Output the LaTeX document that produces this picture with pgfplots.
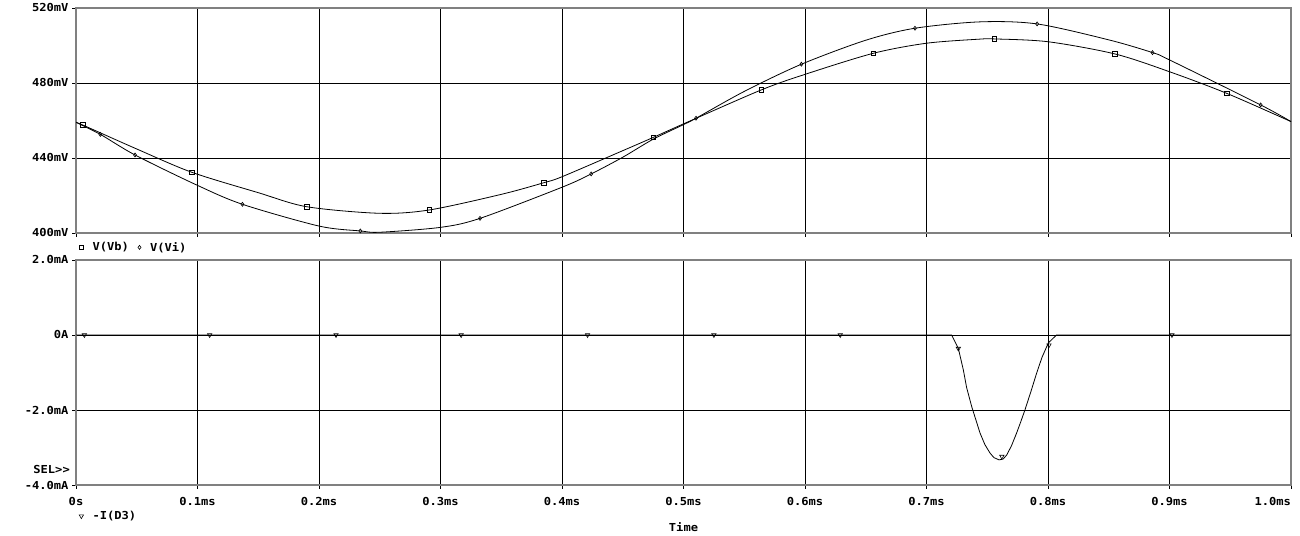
\documentclass[border=0pt]{standalone}
\usepackage{fontspec}
\setmainfont{DejaVu Sans Mono}[FakeStretch=1.1]
\usepackage{pgfplots}
\pgfplotsset{compat=1.18}
\pgfplotsset{
  psp/.style={
    scale only axis, width=1215bp, height=225bp,
    xmin=0, xmax=1,
    xtick={0,0.1,0.2,0.3,0.4,0.5,0.6,0.7,0.8,0.9,1.0},
    axis line style={gray, line width=1.5bp},
    grid=major, grid style={black, line width=0.8bp},
    tick style={black, line width=0.8bp},
    tick align=outside, major tick length=4bp,
    xtick pos=bottom, ytick pos=left,
    clip mode=individual,
    font=\bfseries\fontsize{11bp}{13bp}\selectfont,
    yticklabel style={xshift=0bp},
    legend cell align=left,
    legend style={draw=none, fill=none, inner sep=0pt, legend columns=-1,
      /tikz/every odd column/.append style={column sep=7bp},
      /tikz/every even column/.append style={column sep=7bp},
      font=\bfseries\fontsize{11bp}{13bp}\selectfont},
    legend image code/.code={\draw[mark repeat=2,mark phase=2,#1] plot coordinates {(0bp,0bp)(5bp,0bp)(10bp,0bp)};},
  },
  crv/.style={black, line width=0.8bp, no marks},
}
\begin{document}
\begin{tikzpicture}[x=1bp,y=1bp]
\useasboundingbox (0,0) rectangle (1300,536);
\begin{axis}[psp, at={(76bp,303bp)}, anchor=south west,
  ymin=400, ymax=520, ytick={400,440,480,520},
  yticklabels={400mV,440mV,480mV,520mV},
  xticklabels={},
  legend style={at={(axis description cs:0,0)}, anchor=north west, yshift=-7bp, xshift=3bp},
]
\addplot[crv, smooth, forget plot] coordinates {
(0,459.0) (0.0055,457.6) (0.05,444.8) (0.0952,432.4) (0.15,421.5) (0.19,414.0)
(0.25,410.5) (0.291,412.3) (0.35,420.6) (0.385,426.8) (0.4,430.0) (0.45,443.9)
(0.4752,451.0) (0.5,458.2) (0.564,476.3) (0.6,484.6) (0.656,495.8) (0.7,501.2)
(0.744,503.4) (0.756,503.5) (0.8,502.0) (0.855,495.5) (0.9,486.0) (0.947,474.5) (1.0,459.4)};
\addplot[black, only marks, mark=square, mark size=2.2bp, mark options={line width=0.6bp}] coordinates {
(0.0055,457.6) (0.0952,432.4) (0.19,414.0) (0.291,412.3) (0.385,426.8) (0.4752,451.0)
(0.564,476.3) (0.656,495.8) (0.756,503.5) (0.855,495.5) (0.947,474.5)};
\addlegendentry{V(Vb)}
\addplot[crv, smooth, forget plot] coordinates {
(0,459.0) (0.02,452.6) (0.0486,441.6) (0.0993,425.6) (0.137,415.3) (0.2,403.7)
(0.234,401.1) (0.25,400.4) (0.3,403.0) (0.3325,407.8) (0.4,424.4) (0.424,431.5)
(0.45,440.4) (0.475,450.0) (0.5,457.8) (0.5103,461.2) (0.55,475.5) (0.597,490.0)
(0.65,502.8) (0.6905,509.2) (0.744,512.6) (0.791,511.5) (0.85,503.0) (0.886,496.2)
(0.9,492.3) (0.975,468.3) (1.0,459.4)};
\addplot[black, only marks, mark=diamond, mark size=2bp, mark options={line width=0.6bp}] coordinates {
(0.02,452.6) (0.0486,441.6) (0.137,415.3) (0.234,401.1) (0.3325,407.8) (0.424,431.5)
(0.5103,461.2) (0.597,490.0) (0.6905,509.2) (0.791,511.5) (0.886,496.2) (0.975,468.3)};
\addlegendentry{V(Vi)}
\end{axis}
\begin{axis}[psp, at={(76bp,51bp)}, anchor=south west,
  ymin=-4, ymax=2, ytick={-4,-2,0,2},
  yticklabels={-4.0mA,-2.0mA,0A,2.0mA},
  xticklabels={0s,0.1ms,0.2ms,0.3ms,0.4ms,0.5ms,0.6ms,0.7ms,0.8ms,0.9ms,\llap{1.0ms}},
  xticklabel style={yshift=-5bp},
  xlabel={Time},
  xlabel style={at={(axis description cs:0.5,0)}, anchor=center, yshift=-42bp},
  legend style={at={(axis description cs:0,0)}, anchor=north west, yshift=-24bp, xshift=3bp},
]
\addplot[crv, forget plot] coordinates {
(0,0) (0.7207,0) (0.7262,-0.36) (0.7303,-0.93) (0.733,-1.4) (0.7372,-1.91) (0.744,-2.61)
(0.748,-2.92) (0.7523,-3.15) (0.7555,-3.27) (0.7597,-3.33) (0.763,-3.31) (0.766,-3.2)
(0.770,-2.95) (0.7742,-2.61) (0.7775,-2.32) (0.781,-2.0) (0.786,-1.5) (0.7907,-1.01)
(0.795,-0.6) (0.8003,-0.21) (0.807,0) (1.0,0)};
\addplot[black, only marks, mark=triangle, mark size=2.5bp, mark options={rotate=180, line width=0.6bp}] coordinates {
(0.0069,0) (0.110,0) (0.214,0) (0.317,0) (0.421,0) (0.525,0) (0.629,0)
(0.7262,-0.36) (0.762,-3.24) (0.8008,-0.27) (0.902,0)};
\addlegendentry{-I(D3)}
\node[anchor=east, inner sep=0pt, font=\bfseries\fontsize{11bp}{13bp}\selectfont] at (axis description cs:0,0.0667) [xshift=-6bp] {SEL{>}{>}};
\end{axis}
\end{tikzpicture}
\end{document}
